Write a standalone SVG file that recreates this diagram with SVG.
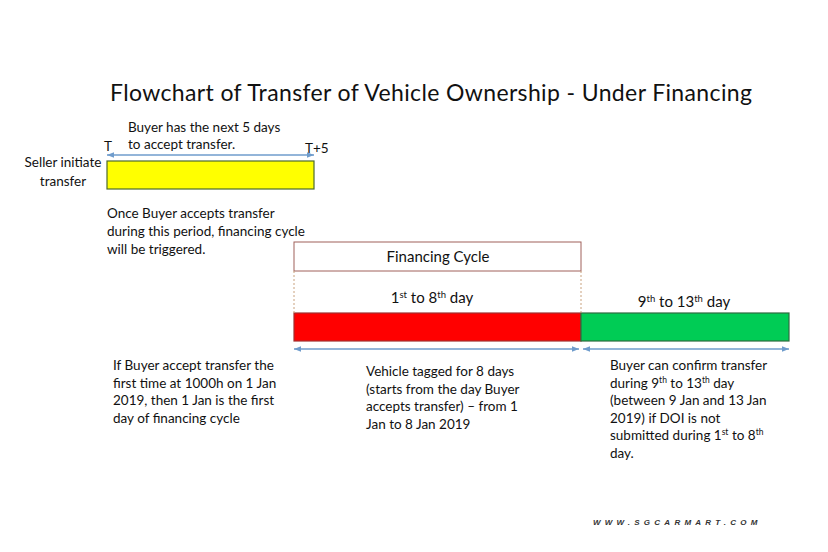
<svg xmlns="http://www.w3.org/2000/svg" width="828" height="552" viewBox="0 0 828 552">
<style>
text{font-family:Lato,"Open Sans","Liberation Sans",sans-serif;fill:#111;}
.t{font-size:13.5px;}
.b{font-size:15px;}
.title{font-size:23px;}
.sup{font-size:8.5px;}
.sup2{font-size:9.5px;}
.arr{stroke:#6f9ccc;stroke-width:1.3;fill:none;marker-start:url(#ah);marker-end:url(#ah);}
.dash{stroke:#c9a27e;stroke-width:1;stroke-dasharray:2,2;fill:none;}
.wm{font-family:"Liberation Sans",Arial,sans-serif;font-size:8px;font-style:italic;font-weight:bold;letter-spacing:4.25px;fill:#333;}
</style>
<defs>
<marker id="ah" viewBox="0 0 10 10" refX="10" refY="5" markerWidth="7" markerHeight="7" orient="auto-start-reverse" markerUnits="userSpaceOnUse">
<path d="M0,1 L10,5 L0,9 Z" fill="#6f9ccc"/>
</marker>
</defs>
<rect width="828" height="552" fill="#ffffff"/>
<text class="title" x="110" y="101" textLength="642">Flowchart of Transfer of Vehicle Ownership - Under Financing</text>

<g id="seller-label">
<text class="t" x="63" y="167" text-anchor="middle">Seller initiate</text>
<text class="t" x="63" y="186" text-anchor="middle">transfer</text>
</g>
<g id="buyer-5days">
<text class="t" x="128" y="132">Buyer has the next 5 days</text>
<text class="t" x="128" y="149">to accept transfer.</text>
<text class="t" x="104" y="151">T</text>
<text class="t" x="305" y="153">T+5</text>
</g>
<g id="yellow-period">
<rect x="107" y="161" width="207" height="28" fill="#ffff00" stroke="#4d6b2c" stroke-width="1.2"/>
</g>
<g id="once-buyer">
<text class="t" x="107" y="218">Once Buyer accepts transfer</text>
<text class="t" x="107" y="236">during this period, financing cycle</text>
<text class="t" x="107" y="254">will be triggered.</text>
</g>
<g id="financing-cycle">
<rect x="294" y="242" width="287" height="29" fill="#ffffff" stroke="#a0605a" stroke-width="1"/>
<text class="b" x="438" y="262" text-anchor="middle">Financing Cycle</text>
</g>
<g id="label-1-8">
<text class="b" x="432" y="303" text-anchor="middle">1<tspan class="sup2" dy="-5">st</tspan><tspan dy="5"> to 8</tspan><tspan class="sup2" dy="-5">th</tspan><tspan dy="5"> day</tspan></text>
</g>
<g id="label-9-13">
<text class="b" x="684" y="307" text-anchor="middle">9<tspan class="sup2" dy="-5">th</tspan><tspan dy="5"> to 13</tspan><tspan class="sup2" dy="-5">th</tspan><tspan dy="5"> day</tspan></text>
</g>
<g id="red-period">
<rect x="294" y="313" width="287" height="28" fill="#ff0000" stroke="#a03030" stroke-width="1.2"/>
</g>
<g id="green-period">
<rect x="581" y="313" width="208" height="28" fill="#00cc55" stroke="#2e6b40" stroke-width="1.2"/>
</g>
<g id="connectors">
<line class="arr" x1="107" y1="155" x2="314" y2="155"/>
<line class="dash" x1="294" y1="271" x2="294" y2="313"/>
<line class="dash" x1="581" y1="271" x2="581" y2="313"/>
<line class="arr" x1="294" y1="349" x2="579" y2="349"/>
<line class="arr" x1="583" y1="349" x2="789" y2="349"/>
</g>
<g id="note-left">
<text class="t" x="113" y="370">If Buyer accept transfer the</text>
<text class="t" x="113" y="388">first time at 1000h on 1 Jan</text>
<text class="t" x="113" y="405">2019, then 1 Jan is the first</text>
<text class="t" x="113" y="423">day of financing cycle</text>
</g>
<g id="note-middle">
<text class="t" x="366" y="376">Vehicle tagged for 8 days</text>
<text class="t" x="366" y="394">(starts from the day Buyer</text>
<text class="t" x="366" y="411">accepts transfer) – from 1</text>
<text class="t" x="366" y="429">Jan to 8 Jan 2019</text>
</g>
<g id="note-right">
<text class="t" x="610" y="370">Buyer can confirm transfer</text>
<text class="t" x="610" y="388">during 9<tspan class="sup" dy="-5">th</tspan><tspan dy="5"> to 13</tspan><tspan class="sup" dy="-5">th</tspan><tspan dy="5"> day</tspan></text>
<text class="t" x="610" y="405">(between 9 Jan and 13 Jan</text>
<text class="t" x="610" y="423">2019) if DOI is not</text>
<text class="t" x="610" y="440">submitted during 1<tspan class="sup" dy="-5">st</tspan><tspan dy="5"> to 8</tspan><tspan class="sup" dy="-5">th</tspan></text>
<text class="t" x="610" y="458">day.</text>
</g>
<text class="wm" x="593" y="525">WWW.SGCARMART.COM</text>
</svg>
